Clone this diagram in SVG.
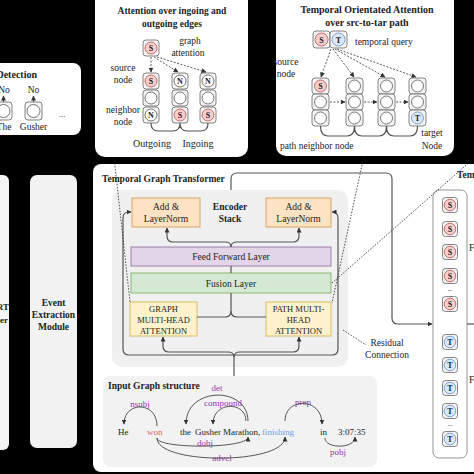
<svg xmlns="http://www.w3.org/2000/svg" width="474" height="474" viewBox="0 0 474 474">
<defs>
<style>
text{font-family:"Liberation Serif","Times New Roman",serif;fill:#222}
.b{font-weight:bold}
.m{text-anchor:middle}
.e{text-anchor:end}
.cell{fill:#f5f5f5;stroke:#666;stroke-width:0.8}
.ci{fill:#fff;stroke:#555;stroke-width:0.8}
.cs{fill:#f8cecc;stroke:#b85450;stroke-width:0.8}
.ct{fill:#dae8fc;stroke:#6c8ebf;stroke-width:0.8}
.lt{font-size:8px;font-weight:bold;text-anchor:middle}
.dash{fill:none;stroke:#333;stroke-width:0.8;stroke-dasharray:2 1.5}
.dot{fill:none;stroke:#222;stroke-width:0.8;stroke-dasharray:1.5 1.5}
.conn{fill:none;stroke:#555;stroke-width:1.2}
.arc{fill:none;stroke:#444;stroke-width:0.9}
.lab{font-size:9px;fill:#9933aa;text-anchor:middle}
.w{font-size:9.5px}
.wd{font-size:9px}
</style>
<marker id="ah" viewBox="0 0 10 10" refX="9" refY="5" markerWidth="5" markerHeight="5" orient="auto" markerUnits="userSpaceOnUse"><path d="M0,0 L10,5 L0,10 z" fill="#333"/></marker>
</defs>
<rect x="0" y="0" width="474" height="474" fill="#000"/>

<!-- Detection panel -->
<g id="detection">
<rect x="-20" y="63" width="101" height="72" rx="8" fill="#fff"/>
<text x="37" y="78" class="b e" font-size="10">Detection</text>
<text x="4" y="93" class="m" font-size="9.5">No</text>
<text x="33.5" y="93" class="m" font-size="9.5">No</text>
<rect x="-5" y="102" width="17" height="18" rx="3" class="cell"/><circle cx="3.5" cy="111" r="6.5" class="ci"/>
<rect x="25" y="102" width="17" height="18" rx="3" class="cell"/><circle cx="33.5" cy="111" r="6.5" class="ci"/>
<text x="4" y="130" class="m" font-size="9.5">The</text>
<text x="33.5" y="130" class="m" font-size="9.5">Gusher</text>
<text x="62" y="117" class="m" font-size="9">...</text>
<path d="M3.5,102 V96" class="conn" stroke="#333" stroke-width="1" marker-end="url(#ah)"/>
<path d="M33.5,102 V96" class="conn" stroke="#333" stroke-width="1" marker-end="url(#ah)"/>
</g>

<!-- Attention over ingoing and outgoing edges panel -->
<g id="attention-panel">
<rect x="95" y="-10" width="153" height="167" rx="10" fill="#fff"/>
<text x="172" y="14" class="b m" font-size="9.5">Attention over ingoing and</text>
<text x="172" y="27" class="b m" font-size="9.5">outgoing edges</text>
<rect x="143" y="40" width="16" height="16" rx="3" class="cell"/><circle cx="151" cy="48" r="6" class="cs"/><text x="151" y="51" class="lt">S</text>
<text x="190" y="44" class="m" font-size="9.5">graph</text>
<text x="188" y="56" class="m" font-size="9.5">attention</text>
<text x="123" y="71" class="m" font-size="9.5">source</text>
<text x="123" y="83" class="m" font-size="9.5">node</text>
<text x="123" y="113" class="m" font-size="9.5">neighbor</text>
<text x="123" y="125" class="m" font-size="9.5">node</text>
<rect x="143" y="73" width="16" height="16" rx="3" class="cell"/><circle cx="151" cy="81" r="6" class="cs"/><text x="151" y="84" class="lt">S</text>
<rect x="143" y="90" width="16" height="16" rx="3" class="cell"/><circle cx="151" cy="98" r="6" class="ci"/>
<rect x="143" y="107" width="16" height="16" rx="3" class="cell"/><circle cx="151" cy="115" r="6" class="ci"/><text x="151" y="118" class="lt">N</text>
<rect x="172" y="73" width="16" height="16" rx="3" class="cell"/><circle cx="180" cy="81" r="6" class="ci"/><text x="180" y="84" class="lt">N</text>
<rect x="172" y="90" width="16" height="16" rx="3" class="cell"/><circle cx="180" cy="98" r="6" class="ci"/>
<rect x="172" y="107" width="16" height="16" rx="3" class="cell"/><circle cx="180" cy="115" r="6" class="cs"/><text x="180" y="118" class="lt">S</text>
<rect x="200" y="73" width="16" height="16" rx="3" class="cell"/><circle cx="208" cy="81" r="6" class="ci"/><text x="208" y="84" class="lt">N</text>
<rect x="200" y="90" width="16" height="16" rx="3" class="cell"/><circle cx="208" cy="98" r="6" class="ci"/>
<rect x="200" y="107" width="16" height="16" rx="3" class="cell"/><circle cx="208" cy="115" r="6" class="cs"/><text x="208" y="118" class="lt">S</text>
<text x="152" y="147" class="m" font-size="10">Outgoing</text>
<text x="198" y="147" class="m" font-size="10">Ingoing</text>
</g>

<!-- Temporal Orientated Attention panel -->
<g id="temporal-panel">
<rect x="276" y="-10" width="178" height="166" rx="10" fill="#fff"/>
<text x="367" y="13" class="b m" font-size="10">Temporal Orientated Attention</text>
<text x="367" y="26" class="b m" font-size="10">over src-to-tar path</text>
<rect x="313" y="31" width="17" height="17" rx="3" class="cell"/><circle cx="321.5" cy="39.5" r="6.5" class="cs"/><text x="321.5" y="42.5" class="lt">S</text>
<rect x="330" y="31" width="17" height="17" rx="3" class="cell"/><circle cx="338.5" cy="39.5" r="6.5" class="ct"/><text x="338.5" y="42.5" class="lt">T</text>
<text x="355" y="45" font-size="9.5">temporal query</text>
<text x="286" y="65" class="m" font-size="9.5">source</text>
<text x="286" y="77" class="m" font-size="9.5">node</text>
<rect x="312" y="78" width="17" height="16" rx="3" class="cell"/><circle cx="320.5" cy="86" r="6" class="cs"/><text x="320.5" y="89" class="lt">S</text>
<rect x="312" y="94" width="17" height="16" rx="3" class="cell"/><circle cx="320.5" cy="102" r="6" class="ci"/>
<rect x="312" y="110" width="17" height="16" rx="3" class="cell"/><circle cx="320.5" cy="118" r="6" class="ci"/>
<rect x="346" y="78" width="17" height="16" rx="3" class="cell"/><circle cx="354.5" cy="86" r="6" class="ci"/>
<rect x="346" y="94" width="17" height="16" rx="3" class="cell"/><circle cx="354.5" cy="102" r="6" class="ci"/>
<rect x="346" y="110" width="17" height="16" rx="3" class="cell"/><circle cx="354.5" cy="118" r="6" class="ci"/>
<rect x="378" y="78" width="17" height="16" rx="3" class="cell"/><circle cx="386.5" cy="86" r="6" class="ci"/>
<rect x="378" y="94" width="17" height="16" rx="3" class="cell"/><circle cx="386.5" cy="102" r="6" class="ci"/>
<rect x="378" y="110" width="17" height="16" rx="3" class="cell"/><circle cx="386.5" cy="118" r="6" class="ci"/>
<rect x="409" y="78" width="17" height="16" rx="3" class="cell"/><circle cx="417.5" cy="86" r="6" class="ci"/>
<rect x="409" y="94" width="17" height="16" rx="3" class="cell"/><circle cx="417.5" cy="102" r="6" class="ci"/>
<rect x="409" y="110" width="17" height="16" rx="3" class="cell"/><circle cx="417.5" cy="118" r="6" class="ct"/><text x="417.5" y="121" class="lt">T</text>
<text x="280" y="149" font-size="9.5">path neighbor node</text>
<text x="432" y="136" class="m" font-size="9.5">target</text>
<text x="432" y="149" class="m" font-size="9.5">Node</text>
</g>

<!-- Left column panels -->
<g id="bert-panel">
<rect x="-20" y="175" width="29" height="275" rx="6" fill="#f5f5f5"/>
<text x="9" y="310" class="b e" font-size="9">BERT</text>
<text x="8" y="323" class="b e" font-size="9">Encoder</text>
</g>
<g id="event-extraction">
<rect x="30" y="175" width="47" height="273" rx="7" fill="#f2f2f2"/>
<text x="53.5" y="306" class="b m" font-size="9.5">Event</text>
<text x="53.5" y="318" class="b m" font-size="9.5">Extraction</text>
<text x="53.5" y="330" class="b m" font-size="9.5">Module</text>
</g>

<!-- Main panel -->
<g id="tgt-panel">
<rect x="93" y="164" width="400" height="308" rx="8" fill="#fff"/>
<text x="102" y="182" class="b" font-size="9.5">Temporal Graph Transformer</text>
<text x="457" y="178" class="b" font-size="9.5">Temporal</text>
<rect x="112" y="190" width="236" height="177" rx="10" fill="#f0f0f0"/>
<text x="230" y="210" class="b m" font-size="9.5">Encoder</text>
<text x="230" y="222" class="b m" font-size="9.5">Stack</text>
</g>
<g id="addnorm-left">
<rect x="132" y="198" width="68" height="29" fill="#fde3c3" stroke="#d79b5a" stroke-width="0.9"/>
<text x="166" y="210" class="m w">Add &amp;</text>
<text x="166" y="222" class="m w">LayerNorm</text>
</g>
<g id="addnorm-right">
<rect x="266" y="198" width="65" height="29" fill="#fde3c3" stroke="#d79b5a" stroke-width="0.9"/>
<text x="298.5" y="210" class="m w">Add &amp;</text>
<text x="298.5" y="222" class="m w">LayerNorm</text>
</g>
<g id="feed-forward">
<rect x="131" y="247" width="200" height="19" fill="#e1d5e7" stroke="#9673a6" stroke-width="0.9"/>
<text x="231" y="260" class="m w">Feed Forward Layer</text>
</g>
<g id="fusion">
<rect x="131" y="273" width="200" height="20" fill="#d5e8d4" stroke="#82b366" stroke-width="0.9"/>
<text x="231" y="286.5" class="m w">Fusion Layer</text>
</g>
<g id="graph-mha">
<rect x="130" y="302" width="67" height="34" fill="#fff2cc" stroke="#d6b656" stroke-width="0.9"/>
<text x="163.5" y="311.5" class="m" font-size="8.5">GRAPH</text>
<text x="163.5" y="323" class="m" font-size="8.5">MULTI-HEAD</text>
<text x="163.5" y="334" class="m" font-size="8.5">ATTENTION</text>
</g>
<g id="path-mha">
<rect x="266" y="302" width="65" height="34" fill="#fff2cc" stroke="#d6b656" stroke-width="0.9"/>
<text x="298.5" y="311.5" class="m" font-size="8.5">PATH MULTI-</text>
<text x="298.5" y="323" class="m" font-size="8.5">HEAD</text>
<text x="298.5" y="334" class="m" font-size="8.5">ATTENTION</text>
</g>
<g id="residual-label">
<text x="387" y="346" class="m w">Residual</text>
<text x="387" y="358" class="m w">Connection</text>
</g>

<!-- Right column -->
<g id="right-column">
<rect x="433" y="190" width="34" height="268" rx="6" fill="#fff" stroke="#888" stroke-width="0.9"/>
<rect x="442.5" y="197.5" width="15" height="15" rx="3" class="cell"/><circle cx="450" cy="205" r="5.8" class="cs"/><text x="450" y="208" class="lt">S</text>
<rect x="442.5" y="221.5" width="15" height="15" rx="3" class="cell"/><circle cx="450" cy="229" r="5.8" class="cs"/><text x="450" y="232" class="lt">S</text>
<rect x="442.5" y="244.5" width="15" height="15" rx="3" class="cell"/><circle cx="450" cy="252" r="5.8" class="cs"/><text x="450" y="255" class="lt">S</text>
<rect x="442.5" y="268.5" width="15" height="15" rx="3" class="cell"/><circle cx="450" cy="276" r="5.8" class="cs"/><text x="450" y="279" class="lt">S</text>
<text x="450" y="291" class="m" font-size="6">...</text>
<rect x="442.5" y="296.5" width="15" height="15" rx="3" class="cell"/><circle cx="450" cy="304" r="5.8" class="cs"/><text x="450" y="307" class="lt">S</text>
<rect x="442.5" y="334.5" width="15" height="15" rx="3" class="cell"/><circle cx="450" cy="342" r="5.8" class="ct"/><text x="450" y="345" class="lt">T</text>
<rect x="442.5" y="357.5" width="15" height="15" rx="3" class="cell"/><circle cx="450" cy="365" r="5.8" class="ct"/><text x="450" y="368" class="lt">T</text>
<rect x="442.5" y="380.5" width="15" height="15" rx="3" class="cell"/><circle cx="450" cy="388" r="5.8" class="ct"/><text x="450" y="391" class="lt">T</text>
<rect x="442.5" y="403.5" width="15" height="15" rx="3" class="cell"/><circle cx="450" cy="411" r="5.8" class="ct"/><text x="450" y="414" class="lt">T</text>
<text x="450" y="426" class="m" font-size="6">...</text>
<rect x="442.5" y="431.5" width="15" height="15" rx="3" class="cell"/><circle cx="450" cy="439" r="5.8" class="ct"/><text x="450" y="442" class="lt">T</text>
<text x="469" y="251" font-size="10">F</text>
<text x="469" y="383" font-size="10">F</text>
</g>

<!-- Input graph structure -->
<g id="input-graph">
<rect x="103" y="376" width="274" height="91" rx="8" fill="#f2f2f2"/>
<text x="108" y="389" class="b" font-size="9.5">Input Graph structure</text>
<text x="118" y="435" class="wd">He</text>
<text x="147" y="435" class="wd" style="fill:#e06666">won</text>
<text x="180" y="435" class="wd">the</text>
<text x="195" y="435" class="wd">Gusher</text>
<text x="223" y="435" class="wd">Marathon,</text>
<text x="262" y="435" class="wd" style="fill:#6d9eeb">finishing</text>
<text x="320" y="435" class="wd">in</text>
<text x="338" y="435" class="wd">3:07:35</text>
<text x="140" y="407" class="lab">nsubj</text>
<text x="217" y="391" class="lab">det</text>
<text x="223" y="406" class="lab">compound</text>
<text x="303" y="405" class="lab">prep</text>
<text x="205" y="446" class="lab">dobj</text>
<text x="222" y="461" class="lab">advcl</text>
<text x="338" y="455" class="lab">pobj</text>
</g>

<!-- Connectors -->
<g id="connectors">
<path d="M151,57 V72" class="dash" marker-end="url(#ah)"/>
<path d="M154,57 L178,72" class="dash" marker-end="url(#ah)"/>
<path d="M157,57 L206,72" class="dash" marker-end="url(#ah)"/>
<path d="M151,123 Q151,131 158,131 H173 Q180,131 180,123 Q180,131 187,131 H201 Q208,131 208,123" class="conn" stroke-width="0.9"/>
<path d="M331,49 L321,77" class="dash" marker-end="url(#ah)"/>
<path d="M333,49 L354,77" class="dash" marker-end="url(#ah)"/>
<path d="M335,49 L385,77" class="dash" marker-end="url(#ah)"/>
<path d="M337,49 L416,77" class="dash" marker-end="url(#ah)"/>
<path d="M330,102 H345" class="dash" marker-end="url(#ah)"/>
<path d="M364,102 H377" class="dash" marker-end="url(#ah)"/>
<path d="M396,102 H408" class="dash" marker-end="url(#ah)"/>
<path d="M320.5,126 Q320.5,136 328,136 H347 Q354.5,136 354.5,126 Q354.5,136 362,136 H379 Q386.5,136 386.5,126 Q386.5,136 394,136 H410 Q417.5,136 417.5,126" class="conn" stroke-width="0.9"/>
<path d="M231,266 V273" class="conn" stroke="#333" stroke-width="1.5"/>
<path d="M231,293 V311 Q231,317 225,317 H197" class="conn"/>
<path d="M231,311 Q231,317 237,317 H266" class="conn"/>
<path d="M231,247 Q231,242 225,242 H173 Q167,242 167,236 V228" class="conn" marker-end="url(#ah)"/>
<path d="M231,247 Q231,242 237,242 H293 Q299,242 299,236 V228" class="conn" marker-end="url(#ah)"/>
<path d="M234,376 V357" class="conn"/>
<path d="M234,357 Q234,352 228,352 H169 Q163,352 163,346 V337" class="conn" marker-end="url(#ah)"/>
<path d="M234,357 Q234,352 240,352 H293 Q299,352 299,346 V337" class="conn" marker-end="url(#ah)"/>
<path d="M234,355 H129 Q123,355 123,349 V218 Q123,212 129,212 H131" class="conn" marker-end="url(#ah)"/>
<path d="M234,355 H332 Q338,355 338,349 V218 Q338,212 332,212" class="conn" marker-end="url(#ah)"/>
<path d="M231,190 V179 Q231,173 237,173 H386 Q392,173 392,179 V318 Q392,324 398,324 H432" class="conn" marker-end="url(#ah)"/>
<path d="M467,324 H474" class="conn"/>
<path d="M114,157 L130,302" class="dot"/>
<path d="M364,156 L332,303" class="dot"/>
<path d="M332,283 L472,160" class="dot"/>
<path d="M343,330 L366,345" class="dot"/>
<path d="M157,426 C157,401 124,401 124,424" class="arc" marker-end="url(#ah)"/>
<path d="M248,421 C248,386 186,386 186,424" class="arc" marker-end="url(#ah)"/>
<path d="M246,421 C246,401 213,401 213,424" class="arc" marker-end="url(#ah)"/>
<path d="M285,421 C285,397 322,397 322,424" class="arc" marker-end="url(#ah)"/>
<path d="M157,438 C157,449 248,449 248,437" class="arc" marker-end="url(#ah)"/>
<path d="M157,438 C157,465 285,465 285,437" class="arc" marker-end="url(#ah)"/>
<path d="M325,438 C325,449 355,449 355,437" class="arc" marker-end="url(#ah)"/>
</g>
</svg>
